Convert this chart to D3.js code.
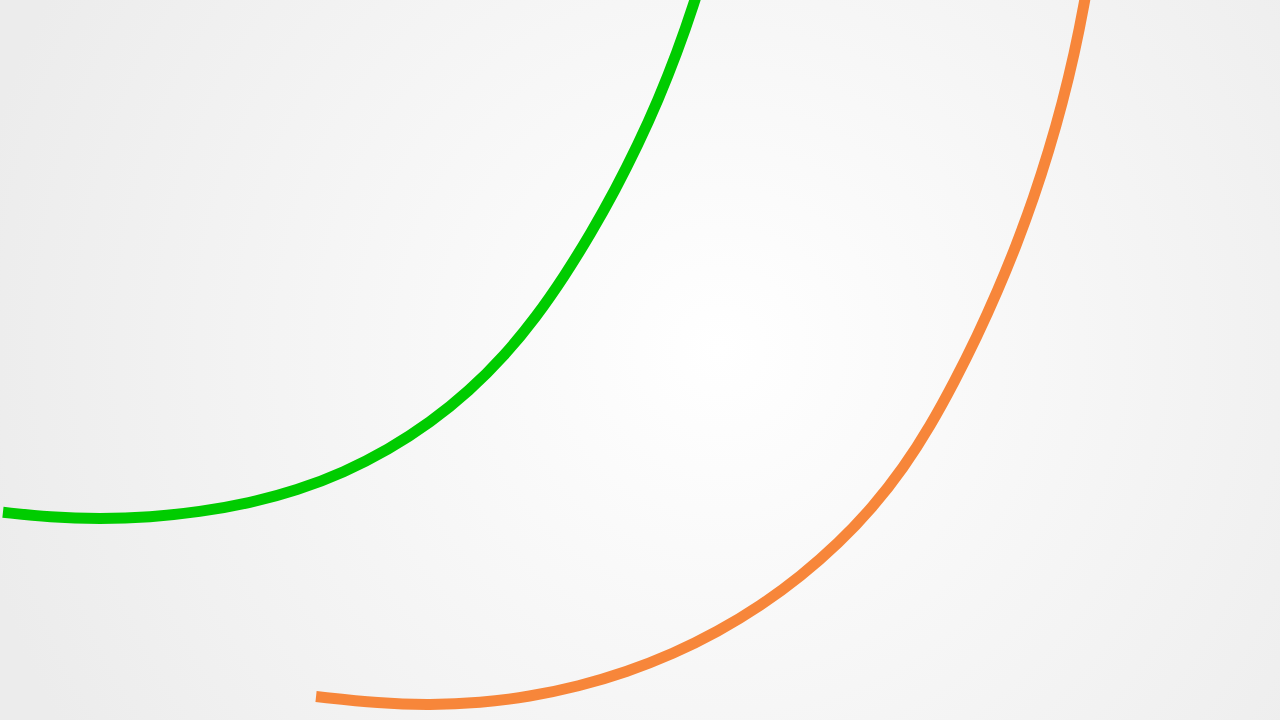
<!DOCTYPE html>
<html>
<head>
<meta charset="utf-8">
<script src="https://cdn.jsdelivr.net/npm/d3@7"></script>
<style>
html, body { margin: 0; padding: 0; overflow: hidden; background: #f0f0f0; }
svg { display: block; }
</style>
</head>
<body>
<svg id="chart" width="1280" height="720"></svg>
<script>
// ---- data (chart units: x 0..100, y 0..100) ----
const seriesNames = ["green", "orange"];
const seriesColors = ["#00cc00", "#f7863a"];

const greenX = [0.23, 3.91, 7.81, 11.72, 15.60, 19.45, 23.22, 26.87, 30.34, 33.63, 36.66, 39.42, 41.89, 44.11, 46.16, 48.07, 49.83, 51.44, 52.88, 54.17, 55.30];
const greenY = [28.85, 28.15, 27.92, 28.15, 28.89, 30.10, 31.89, 34.38, 37.53, 41.32, 45.68, 50.60, 55.97, 61.68, 67.58, 73.64, 79.85, 86.18, 92.63, 99.18, 105.83];

const orangeX = [24.69, 29.69, 33.59, 37.50, 41.38, 45.20, 48.94, 52.58, 56.08, 59.42, 62.57, 65.51, 68.20, 70.60, 72.70, 74.57, 76.32, 77.93, 79.41, 80.75, 81.95, 83.01, 83.93, 84.70, 85.34];
const orangeY = [3.26, 2.31, 2.08, 2.38, 3.24, 4.67, 6.65, 9.18, 12.25, 15.85, 19.96, 24.54, 29.57, 35.04, 40.90, 47.00, 53.21, 59.54, 65.97, 72.49, 79.10, 85.78, 92.53, 99.33, 106.19];

const seriesX = [greenX, orangeX];
const seriesY = [greenY, orangeY];

// ---- layout ----
const W = 1280, H = 720;
const svg = d3.select("#chart");

const defs = svg.append("defs");
const grad = defs.append("radialGradient")
  .attr("id", "bg")
  .attr("gradientUnits", "userSpaceOnUse")
  .attr("cx", 720).attr("cy", 350).attr("r", 760);
grad.append("stop").attr("offset", "0%").attr("stop-color", "#ffffff");
grad.append("stop").attr("offset", "100%").attr("stop-color", "#ececec");

svg.append("rect").attr("width", W).attr("height", H).attr("fill", "url(#bg)");

const x = d3.scaleLinear().domain([0, 100]).range([0, W]);
const y = d3.scaleLinear().domain([0, 100]).range([H, 0]);

const line = d3.line()
  .x(d => x(d[0]))
  .y(d => y(d[1]))
  .curve(d3.curveBasis);

seriesNames.forEach((name, i) => {
  const pts = seriesX[i].map((v, j) => [v, seriesY[i][j]]);
  svg.append("path")
    .datum(pts)
    .attr("class", "series " + name)
    .attr("fill", "none")
    .attr("stroke", seriesColors[i])
    .attr("stroke-width", 11)
    .attr("stroke-linecap", "butt")
    .attr("d", line);
});
</script>
</body>
</html>
